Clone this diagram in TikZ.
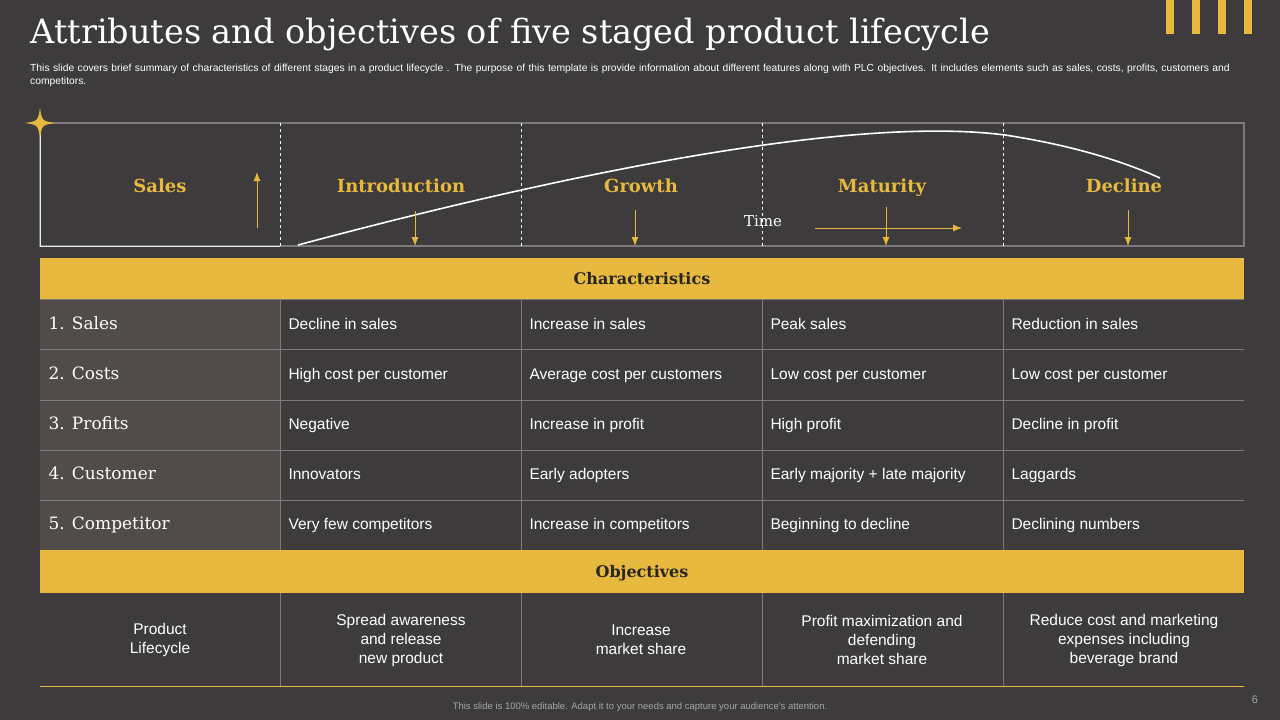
\documentclass[tikz,border=0pt]{standalone}
\usepackage{fontspec}
\newfontfamily\arialfont{Liberation Sans}
\newfontfamily\seriffont{DejaVu Serif}
\definecolor{bgdark}{HTML}{3D3B3C}
\definecolor{gold}{HTML}{E8B93F}
\definecolor{rowgray}{HTML}{514C4A}
\definecolor{gridgray}{HTML}{7C7A7A}
\tikzset{
  stagetxt/.style={text=gold, text height=14pt, text depth=4pt, font=\seriffont\bfseries\fontsize{18}{22}\selectfont},
  rowhead/.style={text=white, anchor=west, text height=13pt, text depth=4pt, font=\seriffont\fontsize{17}{20}\selectfont},
  celltxt/.style={text=white, anchor=west, text height=11pt, text depth=3pt, font=\arialfont\fontsize{15.5}{18}\selectfont},
  objtxt/.style={text=white, align=center, font=\arialfont\fontsize{15.5}{19}\selectfont},
  bandtxt/.style={text=black!85, font=\seriffont\bfseries\fontsize{16}{20}\selectfont},
  goldarrow/.style={gold, line width=1pt, -{Latex[length=9pt,width=7pt]}},
}
\usetikzlibrary{arrows.meta}
\begin{document}
\begin{tikzpicture}[x=1pt,y=-1pt]
\fill[bgdark] (0,0) rectangle (1280,720);
\useasboundingbox (0,0) rectangle (1280,720);

% title and subtitle
\node[anchor=west, text=white, font=\seriffont\fontsize{33.5}{36}\selectfont] (title) at (27,34) {Attributes and objectives of five staged product lifecycle};
\node[anchor=north west, text=white, text width=1212pt, align=left, font=\arialfont\fontsize{10.3}{12.5}\selectfont, inner sep=0pt] (sub) at (30,64)
  {\hyphenpenalty=10000 This slide covers brief summary of characteristics of different stages in a product lifecycle . The purpose of this template is provide information about different features along with PLC objectives. It includes elements such as sales, costs, profits, customers and competitors.};
\foreach \bx in {1166,1192,1218,1244}
  \fill[gold] (\bx,0) rectangle (\bx+8,34);

% stage box
\draw[gridgray, line width=1.2pt] (40,123) rectangle (1244,246);
\draw[white!85!gray, line width=1pt] (40,123) -- (40,246) -- (280,246);
\foreach \cx in {280,521,762,1003}
  \draw[white, dashed, line width=0.6pt] (\cx,123) -- (\cx,246);
\fill[gold] (40,108) .. controls (42,121) .. (55,123) .. controls (42,125) .. (40,138)
  .. controls (38,125) .. (25,123) .. controls (38,121) .. (40,108);
\draw[white, line width=1.6pt] (298,245) .. controls (560,175) and (850,115) .. (1005,135) .. controls (1070,145) and (1120,160) .. (1160,178);

\node[stagetxt] (sales) at (160,187) {Sales};
\node[stagetxt] (intro) at (401,187) {Introduction};
\node[stagetxt] (growth) at (641,187) {Growth};
\node[stagetxt] (maturity) at (882,187) {Maturity};
\node[stagetxt] (decline) at (1124,187) {Decline};
\node[text=white, font=\seriffont\fontsize{15}{18}\selectfont] (time) at (763,221) {Time};

\coordinate (salesA) at (257,228); \coordinate (salesB) at (257,172);
\draw[goldarrow] (salesA) -- (salesB);
\coordinate (timeA) at (815,228); \coordinate (timeB) at (962,228);
\draw[goldarrow] (timeA) -- (timeB);
\foreach \ax/\ay in {415/211, 635/210, 886/207, 1128/210} {
  \draw[goldarrow] (\ax,\ay) -- (\ax,246);
}

% characteristics band
\fill[gold] (40,258) rectangle (1244,299);
\node[bandtxt] (charhead) at (642,279) {Characteristics};
\fill[rowgray] (40,299) rectangle (280,550);
\foreach \ry in {299,349,400,450,500,550}
  \draw[gridgray, line width=0.6pt] (40,\ry) -- (1244,\ry);
\foreach \cx in {280,521,762,1003}
  \draw[gridgray, line width=0.6pt] (\cx,299) -- (\cx,550);

\foreach \ry/\lab/\a/\b/\c/\d [count=\i] in {
  325/{1. Sales}/{Decline in sales}/{Increase  in sales}/{Peak sales}/{Reduction in sales},
  375/{2. Costs}/{High cost per customer}/{Average cost per customers}/{Low cost per customer}/{Low cost per customer},
  425/{3. Profits}/{Negative}/{Increase  in profit}/{High profit}/{Decline in profit},
  475/{4. Customer}/{Innovators}/{Early adopters}/{Early majority + late majority}/{Laggards},
  525/{5. Competitor}/{Very few competitors}/{Increase  in competitors}/{Beginning to decline}/{Declining numbers}} {
  \node[rowhead] (row\i) at (45,\ry) {\lab};
  \node[celltxt] (c\i a) at (285,\ry) {\a};
  \node[celltxt] (c\i b) at (526,\ry) {\b};
  \node[celltxt] (c\i c) at (767,\ry) {\c};
  \node[celltxt] (c\i d) at (1008,\ry) {\d};
}

% objectives band
\fill[gold] (40,550) rectangle (1244,593);
\node[bandtxt] (objhead) at (642,573) {Objectives};
\foreach \cx in {280,521,762,1003}
  \draw[gridgray, line width=0.6pt] (\cx,593) -- (\cx,686);
\draw[gold, line width=1pt] (40,686) -- (1244,686);
\node[objtxt] (obj0) at (160,640) {Product\\Lifecycle};
\node[objtxt] (obj1) at (401,640) {Spread awareness\\and release\\new product};
\node[objtxt] (obj2) at (641,640) {Increase\\market share};
\node[objtxt] (obj3) at (882,640) {Profit maximization and\\defending\\market share};
\node[objtxt] (obj4) at (1124,640) {Reduce cost and marketing\\expenses including\\beverage brand};

% footer
\node[text=gray!70, font=\arialfont\fontsize{9.5}{11}\selectfont] (foot) at (640,707) {This slide is 100\% editable.  Adapt it to your needs and capture your audience's attention.};
\node[text=gray!70, font=\arialfont\fontsize{11}{13}\selectfont] (page) at (1255,700) {6};
\end{tikzpicture}
\end{document}
